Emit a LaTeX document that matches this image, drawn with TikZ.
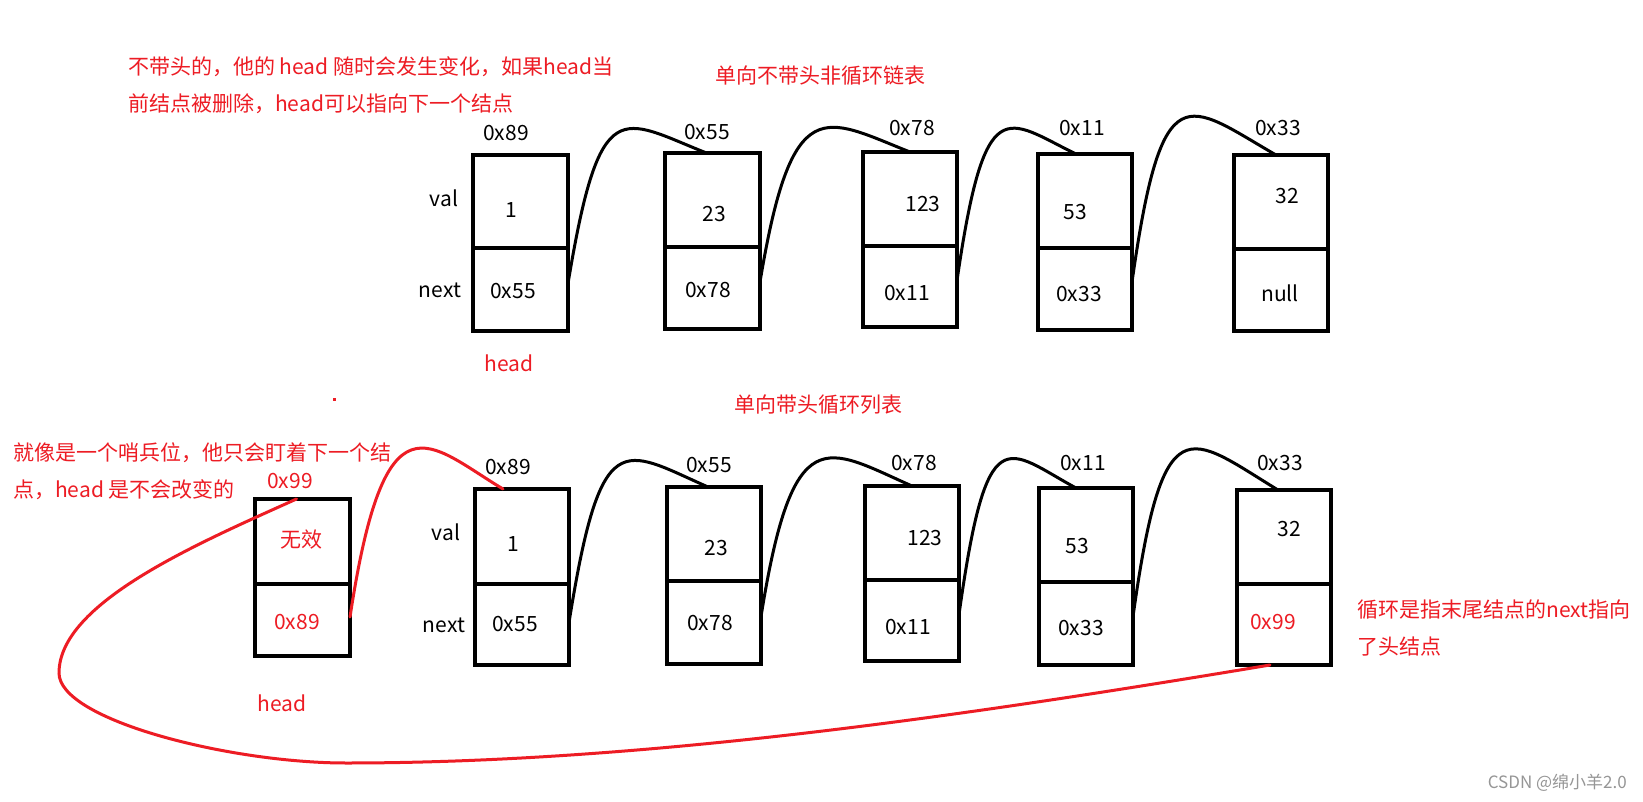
\documentclass[tikz,border=0pt]{standalone}
\usepackage{fontspec}
\newfontfamily\cjk{Noto Sans CJK SC}
\definecolor{pred}{RGB}{237,28,36}
\definecolor{wmark}{RGB}{150,150,150}
\tikzset{
  cellbox/.style={draw=black, line width=4pt, inner sep=0pt, outer sep=0pt, rectangle},
  lbl/.style={font=\cjk\fontsize{21}{25}\selectfont, inner sep=0pt, text=black},
  rlbl/.style={lbl, text=pred},
  note/.style={font=\cjk\fontsize{21}{37}\selectfont, inner sep=0pt, text=pred, align=left, anchor=west},
  link/.style={draw=black, line width=3pt, line cap=round},
  rlink/.style={draw=pred, line width=3pt, line cap=round},
}
\newcommand\cellpair[6]{%
  \node[cellbox, minimum width={#3-#2}, minimum height={#5-#4}] (#1v) at ({(#2+#3)/2},{(#4+#5)/2}) {};
  \node[cellbox, minimum width={#3-#2}, minimum height={#6-#5}] (#1n) at ({(#2+#3)/2},{(#5+#6)/2}) {};
}
\begin{document}
\begin{tikzpicture}[x=1pt, y=-1pt]
\fill[white] (0,0) rectangle (1643,802);
\useasboundingbox (0,0) rectangle (1643,802);

% ---------- top row cells ----------
\cellpair{a1}{473}{568}{155}{248}{331}
\cellpair{b1}{665}{760}{153}{247}{329}
\cellpair{c1}{863}{957}{152}{246}{327}
\cellpair{d1}{1038}{1132}{154}{248}{330}
\cellpair{e1}{1234}{1328}{155}{249}{331}

% ---------- bottom row cells ----------
\cellpair{h}{255}{350}{499}{584}{656}
\cellpair{a2}{475}{569}{489}{584}{665}
\cellpair{b2}{667}{761}{487}{581}{664}
\cellpair{c2}{865}{959}{486}{580}{661}
\cellpair{d2}{1039}{1133}{488}{582}{665}
\cellpair{e2}{1237}{1331}{490}{584}{665}

% ---------- top row texts ----------
\node[note] (note1) at (128,85.5) {不带头的，他的 head 随时会发生变化，如果head当\\前结点被删除，head可以指向下一个结点};
\node[rlbl, anchor=west] (title1) at (715,76) {单向不带头非循环链表};
\node[lbl] (ta1) at (506,133) {0x89};
\node[lbl] (tval1) at (444,198) {val};
\node[lbl] (tnext1) at (440,290) {next};
\node[lbl] (va1) at (511,210) {1};
\node[lbl] (na1) at (513,291) {0x55};
\node[rlbl] (head1) at (509,363) {head};
\node[lbl] (tb1) at (707,132) {0x55};
\node[lbl] (vb1) at (714,214) {23};
\node[lbl] (nb1) at (708,290) {0x78};
\node[lbl] (tc1) at (912,128) {0x78};
\node[lbl] (vc1) at (923,204) {123};
\node[lbl] (nc1) at (907,293) {0x11};
\node[lbl] (td1) at (1082,128) {0x11};
\node[lbl] (vd1) at (1075,212) {53};
\node[lbl] (nd1) at (1079,294) {0x33};
\node[lbl] (te1) at (1278,128) {0x33};
\node[lbl] (ve1) at (1287,196) {32};
\node[lbl] (ne1) at (1280,293) {null};

% ---------- bottom row texts ----------
\node[note] (note2) at (13,471) {就像是一个哨兵位，他只会盯着下一个结\\点，head 是不会改变的};
\node[rlbl, anchor=west] (title2) at (734,405) {单向带头循环列表};
\node[rlbl] (th) at (290,481) {0x99};
\node[rlbl] (vh) at (301,540) {无效};
\node[rlbl] (nh) at (297,622) {0x89};
\node[rlbl] (head2) at (282,703) {head};
\node[lbl] (ta2) at (508,467) {0x89};
\node[lbl] (tval2) at (446,532) {val};
\node[lbl] (tnext2) at (444,625) {next};
\node[lbl] (va2) at (513,544) {1};
\node[lbl] (na2) at (515,624) {0x55};
\node[lbl] (tb2) at (709,465) {0x55};
\node[lbl] (vb2) at (716,548) {23};
\node[lbl] (nb2) at (710,623) {0x78};
\node[lbl] (tc2) at (914,463) {0x78};
\node[lbl] (vc2) at (925,538) {123};
\node[lbl] (nc2) at (908,627) {0x11};
\node[lbl] (td2) at (1083,463) {0x11};
\node[lbl] (vd2) at (1077,546) {53};
\node[lbl] (nd2) at (1081,628) {0x33};
\node[lbl] (te2) at (1280,463) {0x33};
\node[lbl] (ve2) at (1289,529) {32};
\node[rlbl] (ne2) at (1273,622) {0x99};
\node[note] (note3) at (1357,628) {循环是指末尾结点的next指向\\了头结点};

% red dot
\fill[pred] (332.5,397.5) rectangle (335.5,401);

% watermark
\node[font=\cjk\fontsize{17}{20}\selectfont, text=wmark, inner sep=0pt, anchor=east] (wm) at (1627,783) {CSDN @绵小羊2.0};

% ---------- top connectors ----------
\draw[link] ([yshift=6pt]a1n.east) .. controls +(32,-193) and +(-86,-34) .. ([xshift=-6pt]b1v.north);
\draw[link] ([yshift=6pt]b1n.east) .. controls +(32,-193) and +(-86,-34) .. (c1v.north);
\draw[link] ([yshift=6pt]c1n.east) .. controls +(28,-193) and +(-70,-34) .. ([xshift=-9pt]d1v.north);
\draw[link] ([yshift=7pt]d1n.east) .. controls +(30,-212) and +(-90,-52) .. ([xshift=-5pt]e1v.north);

% ---------- bottom connectors ----------
\draw[link] ([yshift=2pt]a2n.east) .. controls +(32,-200) and +(-86,-38) .. ([xshift=-6pt]b2v.north);
\draw[link] ([yshift=6pt]b2n.east) .. controls +(32,-200) and +(-86,-38) .. (c2v.north);
\draw[link] ([yshift=6pt]c2n.east) .. controls +(28,-200) and +(-70,-38) .. ([xshift=-10pt]d2v.north);
\draw[link] ([yshift=7pt]d2n.east) .. controls +(30,-215) and +(-90,-55) .. ([xshift=-6pt]e2v.north);

% ---------- red connectors ----------
\draw[rlink] ([yshift=3pt]hn.east) .. controls +(35,-230) and +(-75,-45) .. ([xshift=-19pt]a2v.north);
\coordinate (lowpt) at (346,763);
\coordinate (leftpt) at (59,673);
\draw[rlink] ([xshift=-14pt]e2n.south) .. controls +(-300,50) and +(300,0) .. (lowpt)
  .. controls +(-116,0) and +(0,47) .. (leftpt)
  .. controls +(0,-70) and +(-100,45) .. ([xshift=-6pt]hv.north);
\end{tikzpicture}
\end{document}
